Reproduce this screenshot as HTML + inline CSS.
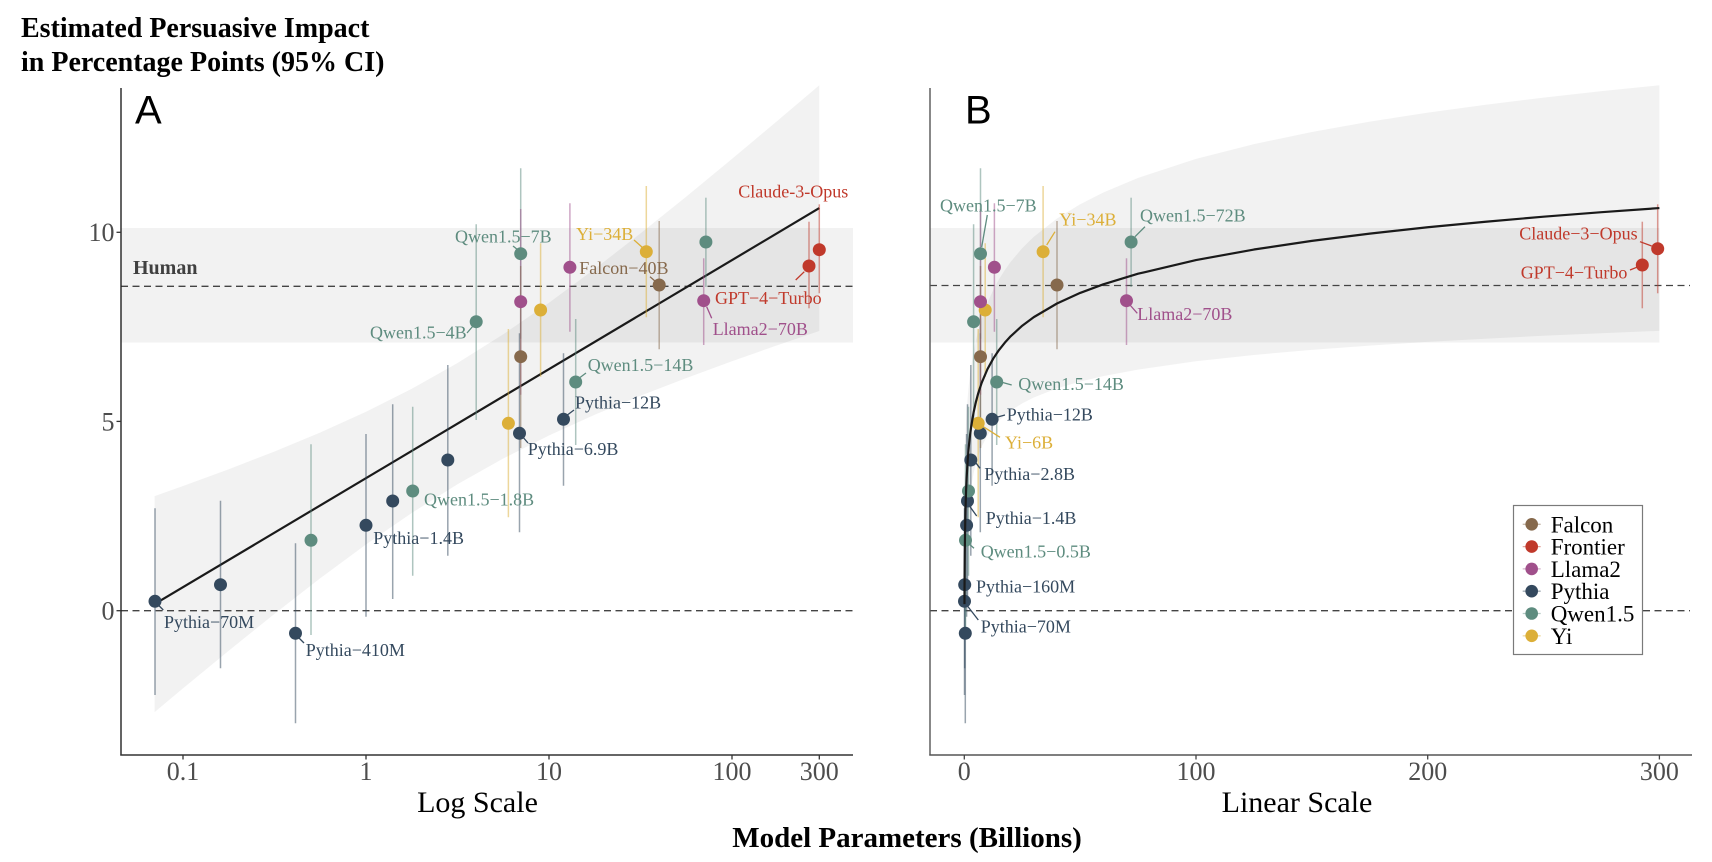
<!DOCTYPE html>
<html><head><meta charset="utf-8"><style>
html,body{margin:0;padding:0;background:#fff;}
svg{display:block;}
text{font-family:"Liberation Serif","Times New Roman",serif;}
</style></head><body>
<svg width="1712" height="862" viewBox="0 0 1712 862" xmlns="http://www.w3.org/2000/svg">
<rect x="0" y="0" width="1712" height="862" fill="#fff"/>

<!-- Title -->
<text x="21" y="37" font-size="28" font-weight="bold" fill="#000">Estimated Persuasive Impact</text>
<text x="21" y="71" font-size="28" font-weight="bold" fill="#000">in Percentage Points (95% CI)</text>

<!-- ================= PANEL A ================= -->
<rect x="121" y="228" width="732" height="114.5" fill="#000" fill-opacity="0.05"/>
<polygon fill="#000" fill-opacity="0.05" points="154.6,496.1 183,486.0 228.75,469.2 274.5,451.5 320.25,432.5 366,411.8 411.75,388.8 457.5,363.0 503.25,334.3 549,302.8 594.75,268.9 640.5,233.4 686.25,196.6 732,158.9 777.75,120.5 819.3,85.3 819.3,331.0 777.75,345.1 732,361.3 686.25,378.1 640.5,395.8 594.75,414.8 549,435.5 503.25,458.5 457.5,484.2 411.75,512.96 366,544.5 320.25,578.3 274.5,613.9 228.75,650.7 183,688.4 154.6,712.1"/>
<line x1="121" y1="286.3" x2="853" y2="286.3" stroke="#444" stroke-width="1.3" stroke-dasharray="7 4.5"/>
<line x1="121" y1="610.7" x2="853" y2="610.7" stroke="#444" stroke-width="1.3" stroke-dasharray="7 4.5"/>
<text x="133" y="274" font-size="20" font-weight="bold" fill="#404040">Human</text>
<line x1="154.6" y1="604.1" x2="819.3" y2="208.1" stroke="#1a1a1a" stroke-width="2.2"/>

<g stroke-width="1.5" stroke-opacity="0.5">
<g stroke="#34495e">
<line x1="155" y1="508.3" x2="155" y2="695"/>
<line x1="220.5" y1="500.7" x2="220.5" y2="668.3"/>
<line x1="295.5" y1="543.3" x2="295.5" y2="723.3"/>
<line x1="366" y1="434" x2="366" y2="616.7"/>
<line x1="392.7" y1="404.3" x2="392.7" y2="599"/>
<line x1="447.8" y1="365" x2="447.8" y2="555.7"/>
<line x1="519.5" y1="333.3" x2="519.5" y2="532.3"/>
<line x1="563.5" y1="353.3" x2="563.5" y2="485.7"/>
</g>
<g stroke="#5e8c7f">
<line x1="311" y1="444.3" x2="311" y2="635"/>
<line x1="412.7" y1="406.7" x2="412.7" y2="575.7"/>
<line x1="476.2" y1="224.3" x2="476.2" y2="420"/>
<line x1="520.7" y1="168.3" x2="520.7" y2="338.8"/>
<line x1="575.7" y1="319" x2="575.7" y2="445"/>
<line x1="705.9" y1="197.7" x2="705.9" y2="287"/>
</g>
<g stroke="#dcaf38">
<line x1="508.4" y1="329" x2="508.4" y2="517.3"/>
<line x1="540.6" y1="243.3" x2="540.6" y2="376.7"/>
<line x1="646.3" y1="186" x2="646.3" y2="317.3"/>
</g>
<g stroke="#a0508b">
<line x1="520.7" y1="209" x2="520.7" y2="394.8"/>
<line x1="569.9" y1="203.3" x2="569.9" y2="331.7"/>
<line x1="703.7" y1="258.3" x2="703.7" y2="345"/>
</g>
<g stroke="#86694c">
<line x1="520.7" y1="266" x2="520.7" y2="448"/>
<line x1="659.2" y1="221" x2="659.2" y2="349.3"/>
</g>
<g stroke="#c0392b">
<line x1="809" y1="221.7" x2="809" y2="308.3"/>
<line x1="819.3" y1="204.3" x2="819.3" y2="293.3"/>
</g>
</g>

<g fill="#34495e">
<circle cx="155" cy="601.3" r="6.5"/>
<circle cx="220.5" cy="584.7" r="6.5"/>
<circle cx="295.5" cy="633.3" r="6.5"/>
<circle cx="366" cy="525.3" r="6.5"/>
<circle cx="392.7" cy="501" r="6.5"/>
<circle cx="447.8" cy="460" r="6.5"/>
<circle cx="519.5" cy="433.3" r="6.5"/>
<circle cx="563.5" cy="419.3" r="6.5"/>
</g>
<g fill="#5e8c7f">
<circle cx="311" cy="540.3" r="6.5"/>
<circle cx="412.7" cy="491" r="6.5"/>
<circle cx="476.2" cy="321.7" r="6.5"/>
<circle cx="520.7" cy="253.7" r="6.5"/>
<circle cx="575.7" cy="382" r="6.5"/>
<circle cx="705.9" cy="242" r="6.5"/>
</g>
<g fill="#dcaf38">
<circle cx="508.4" cy="423.3" r="6.5"/>
<circle cx="540.6" cy="310" r="6.5"/>
<circle cx="646.3" cy="251.7" r="6.5"/>
</g>
<g fill="#a0508b">
<circle cx="520.7" cy="301.7" r="6.5"/>
<circle cx="569.9" cy="267.3" r="6.5"/>
<circle cx="703.7" cy="300.7" r="6.5"/>
</g>
<g fill="#86694c">
<circle cx="520.7" cy="356.7" r="6.5"/>
<circle cx="659.2" cy="285" r="6.5"/>
</g>
<g fill="#c0392b">
<circle cx="809" cy="266" r="6.5"/>
<circle cx="819.3" cy="249.7" r="6.5"/>
</g>

<g font-size="18">
<g fill="#34495e">
<text x="164" y="628">Pythia−70M</text>
<text x="305.7" y="656">Pythia−410M</text>
<text x="373.3" y="544">Pythia−1.4B</text>
<text x="527.7" y="455">Pythia−6.9B</text>
<text x="575" y="408.3">Pythia−12B</text>
</g>
<g fill="#5e8c7f">
<text x="424" y="505.3">Qwen1.5−1.8B</text>
<text x="587.7" y="371">Qwen1.5−14B</text>
<text x="466.7" y="338.3" text-anchor="end">Qwen1.5−4B</text>
<text x="455" y="242.7">Qwen1.5−7B</text>
</g>
<g fill="#dcaf38"><text x="633.3" y="240" text-anchor="end">Yi−34B</text></g>
<g fill="#86694c"><text x="579.3" y="274">Falcon−40B</text></g>
<g fill="#a0508b"><text x="712.7" y="335">Llama2−70B</text></g>
<g fill="#c0392b">
<text x="715" y="304">GPT−4−Turbo</text>
<text x="738.3" y="197.3">Claude-3-Opus</text>
</g>
</g>
<g stroke-width="1.3">
<g stroke="#34495e">
<line x1="157.3" y1="604" x2="163.3" y2="610"/>
<line x1="297" y1="636" x2="304" y2="643"/>
<line x1="522" y1="436" x2="528" y2="443"/>
<line x1="566" y1="416" x2="574" y2="410"/>
</g>
<g stroke="#5e8c7f">
<line x1="578" y1="379" x2="586" y2="373"/>
<line x1="467" y1="333" x2="473" y2="326"/>
<line x1="513" y1="246" x2="518" y2="250"/>
</g>
<line x1="634" y1="240" x2="643" y2="248" stroke="#dcaf38"/>
<line x1="650" y1="276.7" x2="656" y2="282" stroke="#86694c"/>
<line x1="804.3" y1="271.7" x2="795.7" y2="280" stroke="#c0392b"/>
<line x1="706.7" y1="306.7" x2="711.7" y2="318.3" stroke="#a0508b"/>
</g>

<line x1="121" y1="88" x2="121" y2="755.5" stroke="#222" stroke-width="1.4"/>
<line x1="120.3" y1="755" x2="853" y2="755" stroke="#333" stroke-width="1.4"/>
<g stroke="#333" stroke-width="1.3">
<line x1="116.5" y1="232.3" x2="121" y2="232.3"/>
<line x1="116.5" y1="421.4" x2="121" y2="421.4"/>
<line x1="116.5" y1="610.7" x2="121" y2="610.7"/>
<line x1="183" y1="755" x2="183" y2="759.5"/>
<line x1="366" y1="755" x2="366" y2="759.5"/>
<line x1="549" y1="755" x2="549" y2="759.5"/>
<line x1="732" y1="755" x2="732" y2="759.5"/>
<line x1="819.3" y1="755" x2="819.3" y2="759.5"/>
</g>
<g font-size="26" fill="#4d4d4d">
<text x="114.5" y="241" text-anchor="end">10</text>
<text x="114.5" y="430.5" text-anchor="end">5</text>
<text x="114.5" y="619.7" text-anchor="end">0</text>
<text x="183" y="780" text-anchor="middle">0.1</text>
<text x="366" y="780" text-anchor="middle">1</text>
<text x="549" y="780" text-anchor="middle">10</text>
<text x="732" y="780" text-anchor="middle">100</text>
<text x="819.3" y="780" text-anchor="middle">300</text>
</g>
<text x="477.5" y="812" font-size="30" text-anchor="middle" fill="#000">Log Scale</text>
<text x="135" y="123.3" font-size="40" fill="#000" style="font-family:'Liberation Sans',Arial,sans-serif">A</text>

<!-- ================= PANEL B ================= -->
<rect x="930" y="228" width="729.4" height="114.5" fill="#000" fill-opacity="0.05"/>
<polygon fill="#000" fill-opacity="0.05" points="964.46,496.07 964.53,485.99 964.65,474.25 964.76,465.65 965.0,453.2 965.23,443.93 965.46,436.54 966.04,422.42 966.62,411.8 967.78,395.88 968.93,383.77 970.09,373.92 971.25,365.56 973.57,351.68 975.89,340.41 978.2,330.91 981.68,318.87 987.47,302.77 993.26,289.92 999.06,279.18 1004.85,269.95 1010.64,261.84 1022.23,248.11 1033.81,236.77 1056.98,218.55 1080.15,204.23 1103.32,192.44 1138.08,177.88 1196.0,158.91 1253.93,144.09 1311.85,131.95 1369.78,121.62 1427.7,112.63 1485.63,104.75 1543.55,97.6 1601.48,91.17 1659.4,85.25 1659.4,330.87 1601.48,333.23 1543.55,335.8 1485.63,338.69 1427.7,341.89 1369.78,345.58 1311.85,349.85 1253.93,354.95 1196.0,361.29 1138.08,369.58 1103.32,376.16 1080.15,381.63 1056.98,388.43 1033.81,397.49 1022.23,403.35 1010.64,410.74 1004.85,415.31 999.06,420.66 993.26,427.2 987.47,435.47 981.68,446.65 978.2,455.75 975.89,463.51 973.57,473.36 971.25,486.76 970.09,495.6 968.93,506.87 967.78,522.04 966.62,544.5 966.04,561.16 965.46,585.44 965.23,599.17 965.0,617.2 964.76,643.05 964.65,661.71 964.53,688.37 964.46,712.07"/>
<line x1="930" y1="285.5" x2="1690" y2="285.5" stroke="#444" stroke-width="1.3" stroke-dasharray="7 4.5"/>
<line x1="930" y1="610.7" x2="1690" y2="610.7" stroke="#444" stroke-width="1.3" stroke-dasharray="7 4.5"/>

<g stroke-width="1.5" stroke-opacity="0.5">
<g stroke="#34495e">
<line x1="964.5" y1="508.3" x2="964.5" y2="695"/>
<line x1="964.7" y1="500.7" x2="964.7" y2="668.3"/>
<line x1="965.3" y1="543.3" x2="965.3" y2="723.3"/>
<line x1="966.6" y1="434" x2="966.6" y2="616.7"/>
<line x1="967.5" y1="404.3" x2="967.5" y2="599"/>
<line x1="970.8" y1="365" x2="970.8" y2="555.7"/>
<line x1="980.3" y1="333.3" x2="980.3" y2="532.3"/>
<line x1="992.1" y1="353.3" x2="992.1" y2="485.7"/>
</g>
<g stroke="#5e8c7f">
<line x1="965.5" y1="444.3" x2="965.5" y2="635"/>
<line x1="968.5" y1="406.7" x2="968.5" y2="575.7"/>
<line x1="973.6" y1="224.3" x2="973.6" y2="420"/>
<line x1="980.5" y1="168.3" x2="980.5" y2="338.8"/>
<line x1="996.7" y1="319" x2="996.7" y2="445"/>
<line x1="1131.1" y1="197.7" x2="1131.1" y2="287"/>
</g>
<g stroke="#dcaf38">
<line x1="978.2" y1="329" x2="978.2" y2="517.3"/>
<line x1="985.2" y1="243.3" x2="985.2" y2="376.7"/>
<line x1="1043.1" y1="186" x2="1043.1" y2="317.3"/>
</g>
<g stroke="#a0508b">
<line x1="980.5" y1="209" x2="980.5" y2="394.8"/>
<line x1="994.4" y1="203.3" x2="994.4" y2="331.7"/>
<line x1="1126.5" y1="258.3" x2="1126.5" y2="345"/>
</g>
<g stroke="#86694c">
<line x1="980.5" y1="266" x2="980.5" y2="448"/>
<line x1="1057" y1="221" x2="1057" y2="349.3"/>
</g>
<g stroke="#c0392b">
<line x1="1642.3" y1="221.7" x2="1642.3" y2="308.3"/>
<line x1="1657.7" y1="204.3" x2="1657.7" y2="293.3"/>
</g>
</g>

<g fill="#34495e">
<circle cx="964.5" cy="601.3" r="6.5"/>
<circle cx="964.7" cy="584.7" r="6.5"/>
<circle cx="965.3" cy="633.3" r="6.5"/>
<circle cx="966.6" cy="525.3" r="6.5"/>
<circle cx="967.5" cy="501" r="6.5"/>
<circle cx="970.8" cy="460" r="6.5"/>
<circle cx="980.3" cy="433.3" r="6.5"/>
<circle cx="992.1" cy="419.3" r="6.5"/>
</g>
<g fill="#5e8c7f">
<circle cx="965.5" cy="540.3" r="6.5"/>
<circle cx="968.5" cy="491" r="6.5"/>
<circle cx="973.6" cy="321.7" r="6.5"/>
<circle cx="980.5" cy="253.7" r="6.5"/>
<circle cx="996.7" cy="382" r="6.5"/>
<circle cx="1131.1" cy="242" r="6.5"/>
</g>
<g fill="#dcaf38">
<circle cx="978.2" cy="423.3" r="6.5"/>
<circle cx="985.2" cy="310" r="6.5"/>
<circle cx="1043.1" cy="251.7" r="6.5"/>
</g>
<g fill="#a0508b">
<circle cx="980.5" cy="301.7" r="6.5"/>
<circle cx="994.4" cy="267.3" r="6.5"/>
<circle cx="1126.5" cy="300.7" r="6.5"/>
</g>
<g fill="#86694c">
<circle cx="980.5" cy="356.7" r="6.5"/>
<circle cx="1057" cy="285" r="6.5"/>
</g>
<g fill="#c0392b">
<circle cx="1642.3" cy="265" r="6.5"/>
<circle cx="1657.7" cy="248.7" r="6.5"/>
</g>

<polyline fill="none" stroke="#1a1a1a" stroke-width="2.2" stroke-linejoin="round" points="964.46,604.07 964.53,587.18 964.65,567.98 964.76,554.35 965.0,535.19 965.23,521.55 965.46,510.99 966.04,491.79 966.62,478.15 967.78,458.96 968.93,445.32 970.09,434.76 971.25,426.16 973.57,412.52 975.89,401.96 978.2,393.33 981.68,382.76 987.47,369.12 993.26,358.56 999.06,349.92 1004.85,342.63 1010.64,336.29 1022.23,325.73 1033.81,317.13 1056.98,303.49 1080.15,292.93 1103.32,284.3 1138.08,273.73 1196.0,260.1 1253.93,249.52 1311.85,240.9 1369.78,233.6 1427.7,227.26 1485.63,221.72 1543.55,216.7 1601.48,212.2 1659.4,208.06"/>

<g font-size="18">
<g fill="#5e8c7f">
<text x="940" y="211.7">Qwen1.5−7B</text>
<text x="1140" y="221.7">Qwen1.5−72B</text>
<text x="1018.3" y="390">Qwen1.5−14B</text>
<text x="980.7" y="557.3">Qwen1.5−0.5B</text>
</g>
<g fill="#dcaf38">
<text x="1059.3" y="225.7">Yi−34B</text>
<text x="1005" y="448.3">Yi−6B</text>
</g>
<g fill="#a0508b"><text x="1137.3" y="320">Llama2−70B</text></g>
<g fill="#34495e">
<text x="1006.7" y="420.7">Pythia−12B</text>
<text x="984.3" y="480">Pythia−2.8B</text>
<text x="985.7" y="524">Pythia−1.4B</text>
<text x="976" y="592.7">Pythia−160M</text>
<text x="980.7" y="632.7">Pythia−70M</text>
</g>
<g fill="#c0392b">
<text x="1519.3" y="239.3">Claude−3−Opus</text>
<text x="1520.7" y="278.3">GPT−4−Turbo</text>
</g>
</g>
<g stroke-width="1.3">
<g stroke="#5e8c7f">
<line x1="987.3" y1="215" x2="981.7" y2="247"/>
<line x1="1145" y1="226.7" x2="1135" y2="236.7"/>
<line x1="1000" y1="381.7" x2="1011.7" y2="385"/>
<line x1="968.3" y1="543.3" x2="974" y2="548.3"/>
</g>
<g stroke="#dcaf38">
<line x1="1055" y1="231.7" x2="1046.7" y2="245"/>
<line x1="983.3" y1="426.7" x2="1000" y2="437.3"/>
</g>
<line x1="1130" y1="305" x2="1137.3" y2="313.3" stroke="#a0508b"/>
<g stroke="#34495e">
<line x1="996.7" y1="417.3" x2="1005" y2="415"/>
<line x1="975" y1="461.7" x2="980" y2="468.3"/>
<line x1="970" y1="506.7" x2="976.7" y2="516"/>
<line x1="966.7" y1="605" x2="978.3" y2="620"/>
</g>
<g stroke="#c0392b">
<line x1="1640" y1="241.7" x2="1651.7" y2="246"/>
<line x1="1630" y1="270" x2="1636.7" y2="267.3"/>
</g>
</g>

<line x1="930" y1="88" x2="930" y2="755.5" stroke="#555" stroke-width="1.4"/>
<line x1="929.3" y1="755" x2="1692" y2="755" stroke="#555" stroke-width="1.4"/>
<g stroke="#444" stroke-width="1.3">
<line x1="964.3" y1="755" x2="964.3" y2="759.5"/>
<line x1="1196" y1="755" x2="1196" y2="759.5"/>
<line x1="1427.7" y1="755" x2="1427.7" y2="759.5"/>
<line x1="1659.4" y1="755" x2="1659.4" y2="759.5"/>
</g>
<g font-size="26" fill="#4d4d4d">
<text x="964.3" y="780" text-anchor="middle">0</text>
<text x="1196" y="780" text-anchor="middle">100</text>
<text x="1427.7" y="780" text-anchor="middle">200</text>
<text x="1659.4" y="780" text-anchor="middle">300</text>
</g>
<text x="1297" y="812" font-size="30" text-anchor="middle" fill="#000">Linear Scale</text>
<text x="965" y="123.3" font-size="40" fill="#000" style="font-family:'Liberation Sans',Arial,sans-serif">B</text>

<!-- legend -->
<rect x="1513.5" y="505.5" width="129" height="149" fill="#fff" stroke="#7a7a7a" stroke-width="1.2"/>
<g stroke-width="1.3" stroke-opacity="0.45">
<line x1="1522.7" y1="524.3" x2="1540.7" y2="524.3" stroke="#86694c"/>
<line x1="1522.7" y1="546.6" x2="1540.7" y2="546.6" stroke="#c0392b"/>
<line x1="1522.7" y1="568.9" x2="1540.7" y2="568.9" stroke="#a0508b"/>
<line x1="1522.7" y1="591.2" x2="1540.7" y2="591.2" stroke="#34495e"/>
<line x1="1522.7" y1="613.5" x2="1540.7" y2="613.5" stroke="#5e8c7f"/>
<line x1="1522.7" y1="635.8" x2="1540.7" y2="635.8" stroke="#dcaf38"/>
</g>
<circle cx="1531.7" cy="524.3" r="6.3" fill="#86694c"/>
<circle cx="1531.7" cy="546.6" r="6.3" fill="#c0392b"/>
<circle cx="1531.7" cy="568.9" r="6.3" fill="#a0508b"/>
<circle cx="1531.7" cy="591.2" r="6.3" fill="#34495e"/>
<circle cx="1531.7" cy="613.5" r="6.3" fill="#5e8c7f"/>
<circle cx="1531.7" cy="635.8" r="6.3" fill="#dcaf38"/>
<g font-size="23" fill="#000">
<text x="1550.7" y="532.3">Falcon</text>
<text x="1550.7" y="554.6">Frontier</text>
<text x="1550.7" y="576.9">Llama2</text>
<text x="1550.7" y="599.2">Pythia</text>
<text x="1550.7" y="621.5">Qwen1.5</text>
<text x="1550.7" y="643.8">Yi</text>
</g>

<text x="907" y="847" font-size="29" font-weight="bold" text-anchor="middle" fill="#000">Model Parameters (Billions)</text>
</svg>
</body></html>
